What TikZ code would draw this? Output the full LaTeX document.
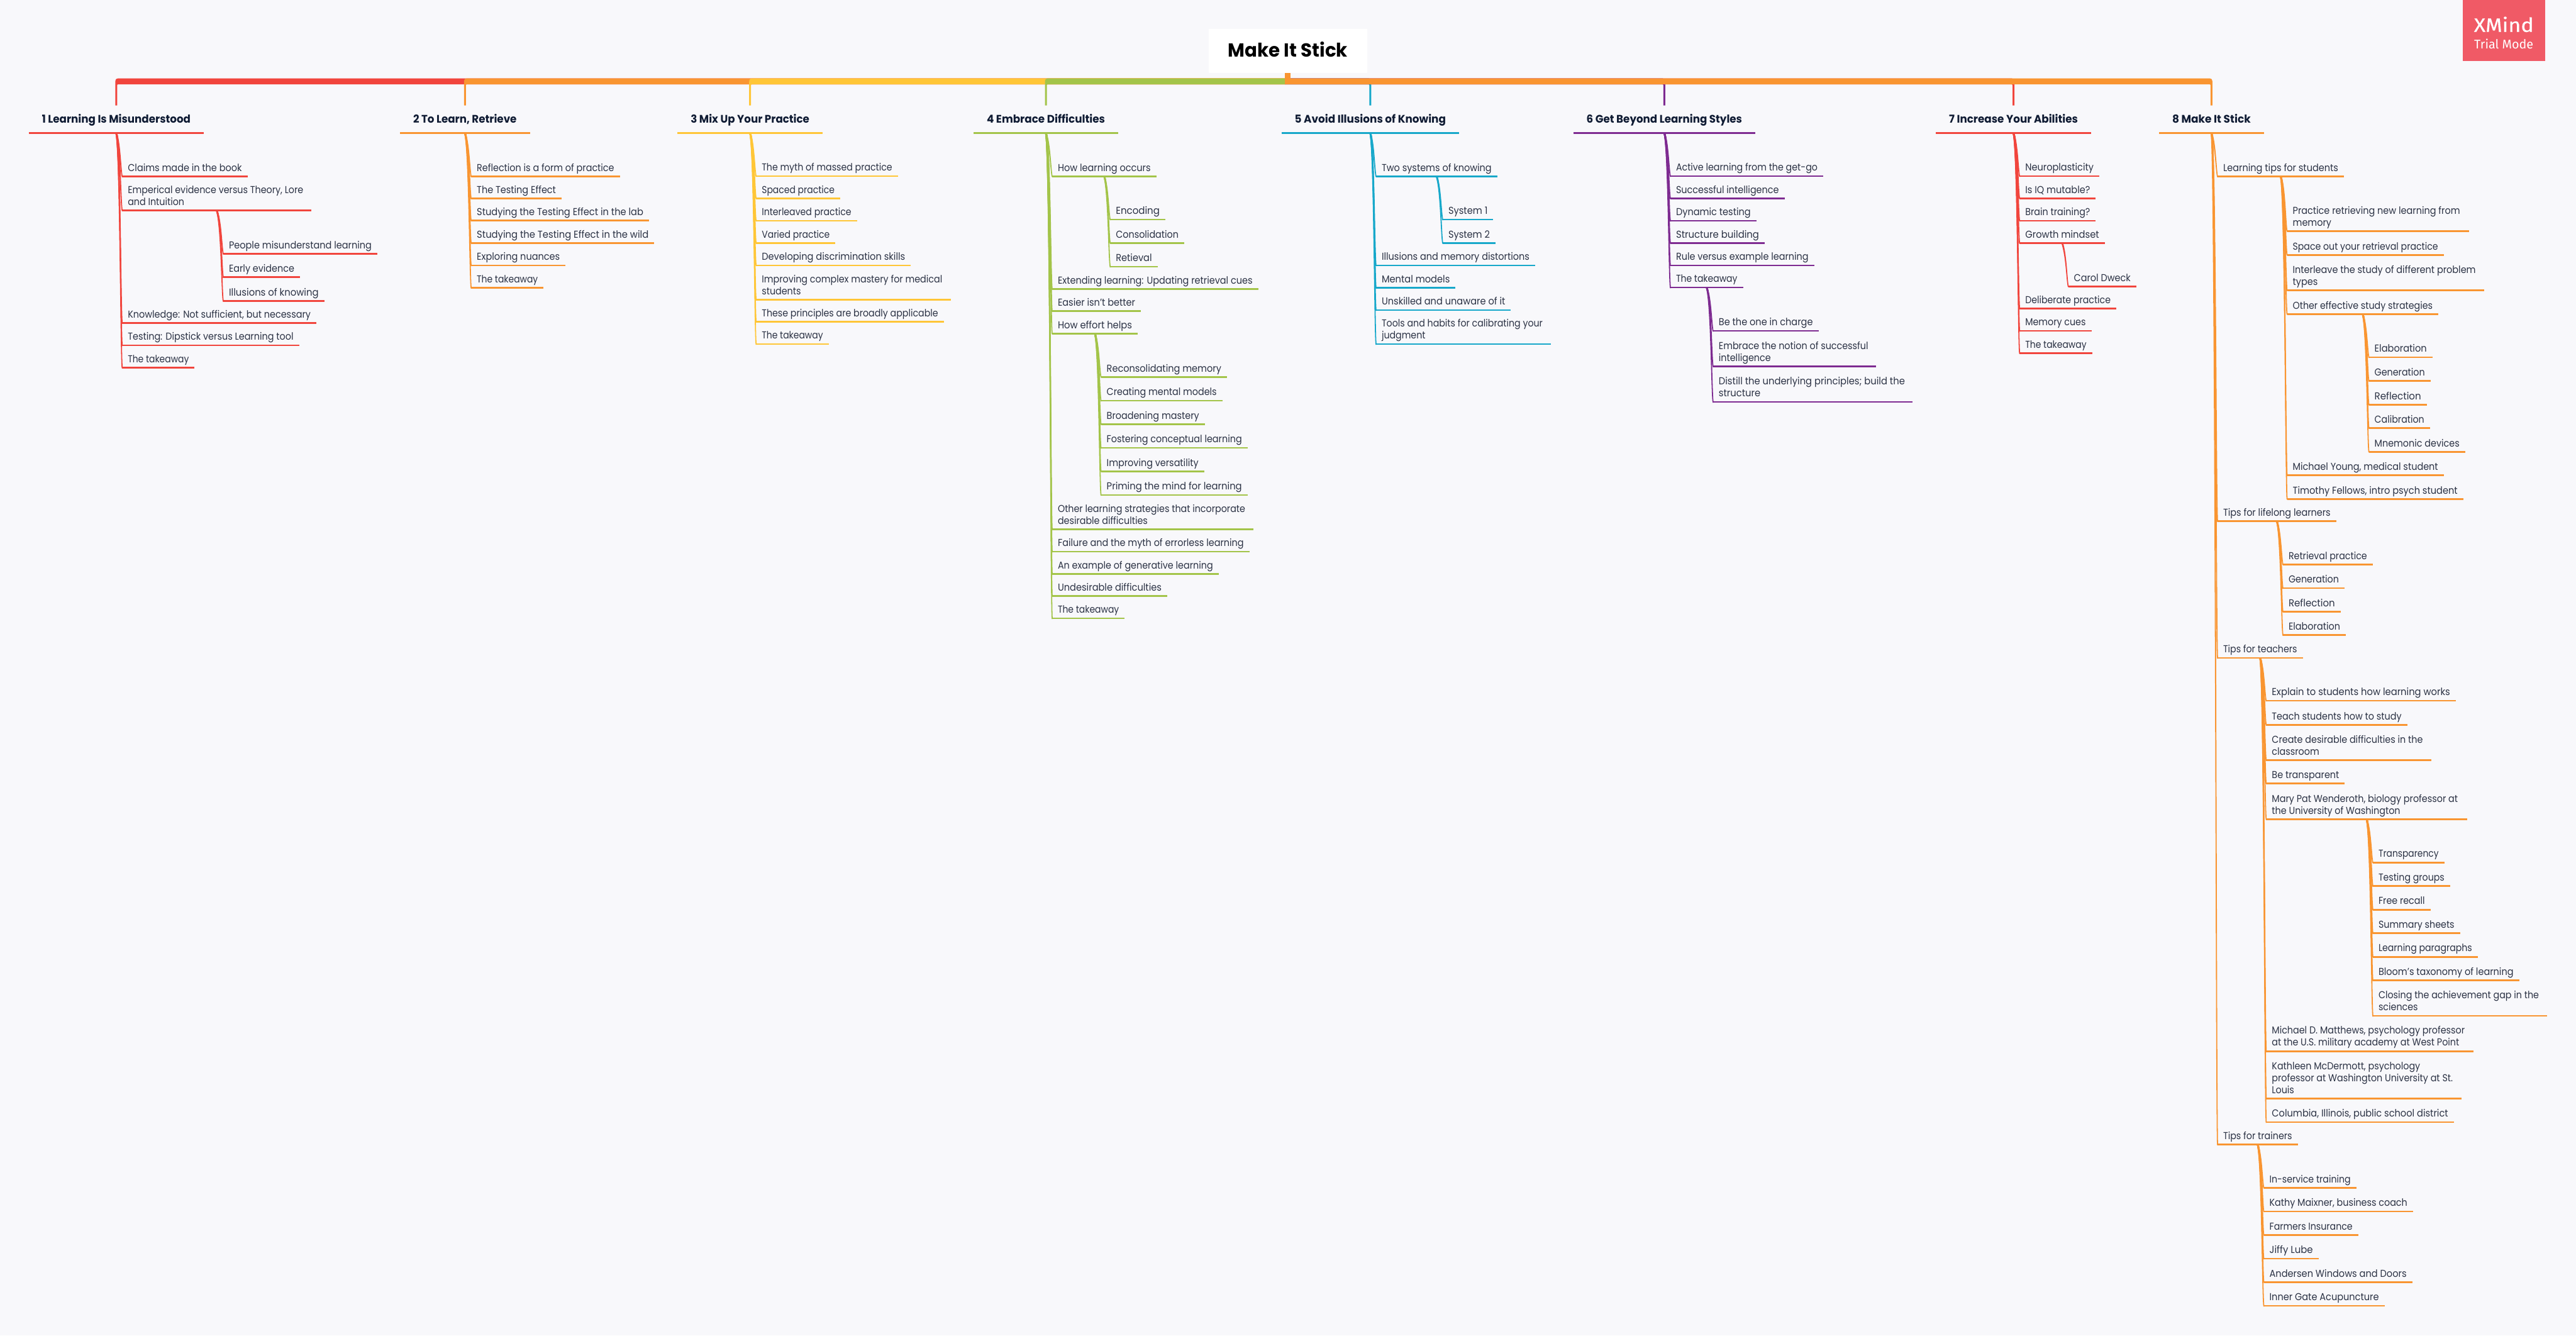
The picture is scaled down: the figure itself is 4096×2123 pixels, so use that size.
\documentclass[tikz,border=0pt]{standalone}
\usepackage{fontspec}
\usepackage{graphicx}
\usetikzlibrary{calc}
\setmainfont{Poppins}
\newfontfamily\xmfont[FakeBold=0.4]{Fira Sans}
\newfontfamily\xmsub{Fira Sans}
\definecolor{bgc}{HTML}{F8F8FB}
\definecolor{cRed}{HTML}{F1453D}
\definecolor{cOrange}{HTML}{F99531}
\definecolor{cYellow}{HTML}{FFC637}
\definecolor{cGreen}{HTML}{A3C449}
\definecolor{cBlue}{HTML}{17A8CA}
\definecolor{cPurple}{HTML}{7E2B91}
\definecolor{cText}{HTML}{2B3244}
\definecolor{cTitle}{HTML}{0F1B33}
\definecolor{cXm}{HTML}{F05A66}
\colorlet{cc}{cRed}
\newsavebox\fitbox
\newcommand\fitto[2]{\sbox\fitbox{\begin{tabular}[b]{@{}l@{}}#2\end{tabular}}\pgfmathsetmacro\fitS{#1/\wd\fitbox}\scalebox{\fitS}[1]{\usebox\fitbox}}
\tikzset{
  leafnode/.style={anchor=south west,inner xsep=9pt,inner ysep=0pt,outer sep=0pt,text=cText,font=\fontsize{16}{19}\selectfont},
  topicnode/.style={anchor=south west,inner xsep=21pt,inner ysep=0pt,outer sep=0pt,text=cTitle,font=\fontsize{17.5}{21}\selectfont\bfseries},
  leafline/.style={draw=cc,line width=2.6pt},
  topicline/.style={draw=cc,line width=3.4pt},
  rootnode/.style={fill=white,minimum width=252.4pt,minimum height=70pt,inner sep=0pt,outer sep=0pt,text=black,font=\fontsize{30}{36}\selectfont\bfseries},
  markbox/.style={fill=cXm,minimum width=131pt,minimum height=96.7pt,inner sep=0pt,outer sep=0pt},
  marktext/.style={text=white,inner sep=0pt,outer sep=0pt}
}
\newcommand\conn[2]{%
  \fill[cc] ($(#1.south)+(-1.5,0)$)
    .. controls ($(#1.south -| #2.south west)+(-4,20)$) and ($(#2.south west)+(-3.4,-10)$) .. ($(#2.south west)+(-0.8,1)$)
    -- ($(#2.south west)+(1,1)$)
    .. controls ($(#2.south west)+(-1.6,-8)$) and ($(#1.south -| #2.south west)+(-2,20)$) .. ($(#1.south)+(1.5,0)$) -- cycle;}
\newcommand\nd[6]{\pgfmathsetmacro\nw{#4-#3-18}%
  \node[leafnode] (#1) at (#3,#5) {\makebox[\nw pt][l]{\fitto{\nw}{#6}\rule[-8.3pt]{0pt}{8.3pt}}};
  \draw[leafline] (#1.south west) -- (#1.south east);
  \conn{#2}{#1}}
\newcommand\ndm[7]{\pgfmathsetmacro\nw{#4-#3-18}%
  \node[leafnode] (#1) at (#3,#5) {\makebox[\nw pt][l]{\fitto{#6}{#7}\rule[-8.3pt]{0pt}{8.3pt}}};
  \draw[leafline] (#1.south west) -- (#1.south east);
  \conn{#2}{#1}}
\newcommand\topic[6]{\colorlet{cc}{#2}\pgfmathsetmacro\nw{#4-#3-42}%
  \node[topicnode] (#1) at (#3,211.3) {\makebox[\nw pt][l]{\fitto{\nw}{#6}\rule[-16.3pt]{0pt}{43.7pt}}};
  \draw[topicline] (#1.south west) -- (#1.south east);
  \fill[cc] ($(hub)+(0,-4.75)$) -- ($(#1.north |- hub)+(#5*8,-4.75)$)
    .. controls ($(#1.north |- hub)+(-#5*1.5,-4.75)$) .. ($(#1.north |- hub)+(-#5*1.5,5)$)
    -- ($(#1.north)+(-#5*1.5,0)$) -- ($(#1.north)+(#5*1.5,0)$)
    -- ($(#1.north |- hub)+(#5*1.5,8)$)
    .. controls ($(#1.north |- hub)+(#5*1.5,4.75)$) .. ($(#1.north |- hub)+(#5*5,4.75)$)
    -- ($(hub)+(0,4.75)$) -- cycle;}
\begin{document}
\begin{tikzpicture}[x=1pt,y=-1pt]
\useasboundingbox (0,0) rectangle (4096,2123);
\fill[bgc] (0,0) rectangle (4096,2123);
\coordinate (hub) at (2043,129.3);
\node[rootnode] (root) at (2047.8,80.5) {\raisebox{-10.3pt}[0pt][0pt]{\fitto{190}{Make It Stick}}};
\node[markbox] (mark) at (3981.2,48.35) {};
\node[marktext,font=\fontsize{31}{37}\selectfont\xmfont] (markA) at (3981.2,50.7) {\raisebox{0pt}[0pt][0pt]{\fitto{95}{XMind}}};
\node[marktext,font=\fontsize{20}{24}\selectfont\xmsub] (markB) at (3981.2,77.3) {\raisebox{0pt}[0pt][0pt]{\fitto{94}{Trial Mode}}};

% ---------- 1
\topic{ta}{cRed}{45.6}{324}{1}{1 Learning Is Misunderstood}
\nd{a1}{ta}{194.3}{393.5}{280.3}{Claims made in the book}
\ndm{a2}{ta}{194.3}{495}{334.5}{279}{Emperical evidence versus Theory, Lore\\and Intuition}
\nd{a21}{a2}{355}{600}{403.3}{People misunderstand learning}
\nd{a22}{a2}{355}{477}{440.5}{Early evidence}
\nd{a23}{a2}{355}{515.6}{478.5}{Illusions of knowing}
\nd{a3}{ta}{194.3}{503}{513.6}{Knowledge: Not sufficient, but necessary}
\nd{a4}{ta}{194.3}{475.6}{549}{Testing: Dipstick versus Learning tool}
\nd{a5}{ta}{194.3}{309.4}{584.4}{The takeaway}

% ---------- 2
\topic{tb}{cOrange}{636}{842.5}{1}{2 To Learn, Retrieve}
\nd{b1}{tb}{749.2}{985.6}{280.3}{Reflection is a form of practice}
\nd{b2}{tb}{749.2}{893}{315.5}{The Testing Effect}
\nd{b3}{tb}{749.2}{1032}{350.7}{Studying the Testing Effect in the lab}
\nd{b4}{tb}{749.2}{1040.3}{386.3}{Studying the Testing Effect in the wild}
\nd{b5}{tb}{749.2}{899.3}{422}{Exploring nuances}
\nd{b6}{tb}{749.2}{864.3}{457.5}{The takeaway}

% ---------- 3
\topic{tc}{cYellow}{1077.3}{1308}{1}{3 Mix Up Your Practice}
\nd{c1}{tc}{1202.3}{1427.7}{280}{The myth of massed practice}
\nd{c2}{tc}{1202.3}{1336}{315.3}{Spaced practice}
\nd{c3}{tc}{1202.3}{1362.7}{351}{Interleaved practice}
\nd{c4}{tc}{1202.3}{1328.3}{386.3}{Varied practice}
\nd{c5}{tc}{1202.3}{1448.3}{422}{Developing discrimination skills}
\ndm{c6}{tc}{1202.3}{1512}{476.3}{287}{Improving complex mastery for medical\\students}
\nd{c7}{tc}{1202.3}{1500.7}{511.3}{These principles are broadly applicable}
\nd{c8}{tc}{1202.3}{1317.7}{547}{The takeaway}

% ---------- 4
\topic{td}{cGreen}{1548}{1778}{1}{4 Embrace Difficulties}
\nd{d1}{td}{1673}{1838.6}{280.3}{How learning occurs}
\nd{d11}{d1}{1765.3}{1853}{349}{Encoding}
\nd{d12}{d1}{1765.3}{1883}{386.3}{Consolidation}
\nd{d13}{d1}{1765.3}{1840.6}{424}{Retieval}
\nd{d2}{td}{1673}{2000.6}{459.5}{Extending learning: Updating retrieval cues}
\nd{d3}{td}{1673}{1814}{494.7}{Easier isn’t better}
\nd{d4}{td}{1673}{1809}{530.3}{How effort helps}
\nd{d41}{d4}{1750.7}{1951}{599.3}{Reconsolidating memory}
\nd{d42}{d4}{1750.7}{1943.7}{637}{Creating mental models}
\nd{d43}{d4}{1750.7}{1915.7}{674.3}{Broadening mastery}
\nd{d44}{d4}{1750.7}{1983.7}{712}{Fostering conceptual learning}
\nd{d45}{d4}{1750.7}{1914.7}{749.3}{Improving versatility}
\nd{d46}{d4}{1750.7}{1983.7}{787}{Priming the mind for learning}
\ndm{d5}{td}{1673}{1992.7}{841.3}{298}{Other learning strategies that incorporate\\desirable difficulties}
\nd{d6}{td}{1673}{1986.7}{877}{Failure and the myth of errorless learning}
\nd{d7}{td}{1673}{1937.7}{912.3}{An example of generative learning}
\nd{d8}{td}{1673}{1856}{947.7}{Undesirable difficulties}
\nd{d9}{td}{1673}{1788.3}{983}{The takeaway}

% ---------- 5
\topic{te}{cBlue}{2037.6}{2320}{-1}{5 Avoid Illusions of Knowing}
\nd{e1}{te}{2188}{2380.7}{280.3}{Two systems of knowing}
\nd{e11}{e1}{2294}{2374.4}{349}{System 1}
\nd{e12}{e1}{2294}{2378}{386.3}{System 2}
\nd{e2}{te}{2188}{2441}{422}{Illusions and memory distortions}
\nd{e3}{te}{2188}{2314.4}{457.5}{Mental models}
\nd{e4}{te}{2188}{2402.4}{493}{Unskilled and unaware of it}
\ndm{e5}{te}{2188}{2465.6}{547}{256}{Tools and habits for calibrating your\\judgment}

% ---------- 6
\topic{tf}{cPurple}{2501.7}{2791}{-1}{6 Get Beyond Learning Styles}
\nd{f1}{tf}{2656}{2899}{280}{Active learning from the get-go}
\nd{f2}{tf}{2656}{2837.5}{315.4}{Successful intelligence}
\nd{f3}{tf}{2656}{2792.8}{351}{Dynamic testing}
\nd{f4}{tf}{2656}{2806}{386.4}{Structure building}
\nd{f5}{tf}{2656}{2884.6}{421.8}{Rule versus example learning}
\nd{f6}{tf}{2656}{2771.5}{457}{The takeaway}
\nd{f61}{f6}{2723.9}{2891.5}{526}{Be the one in charge}
\ndm{f62}{f6}{2723.9}{2983.4}{582.5}{237.7}{Embrace the notion of successful\\intelligence}
\ndm{f63}{f6}{2723.9}{3041.3}{639}{296}{Distill the underlying principles; build the\\structure}

% ---------- 7
\topic{tg}{cRed}{3078}{3325}{-1}{7 Increase Your Abilities}
\nd{g1}{tg}{3211.3}{3338}{280}{Neuroplasticity}
\nd{g2}{tg}{3211.3}{3332.4}{315.4}{Is IQ mutable?}
\nd{g3}{tg}{3211.3}{3332.4}{351}{Brain training?}
\nd{g4}{tg}{3211.3}{3346.7}{386.4}{Growth mindset}
\nd{g41}{g4}{3288.7}{3396.7}{455.4}{Carol Dweck}
\nd{g5}{tg}{3211.3}{3365}{490.7}{Deliberate practice}
\nd{g6}{tg}{3211.3}{3325.5}{526}{Memory cues}
\nd{g7}{tg}{3211.3}{3326.6}{561.4}{The takeaway}

% ---------- 8
\topic{th}{cOrange}{3433}{3599.7}{-1}{8 Make It Stick}
\nd{h1}{th}{3526}{3727}{280.7}{Learning tips for students}
\ndm{h11}{h1}{3636.6}{3925.5}{367.7}{266}{Practice retrieving new learning from\\memory}
\nd{h12}{h1}{3636.6}{3885.6}{405.3}{Space out your retrieval practice}
\ndm{h13}{h1}{3636.6}{3950}{461.7}{291}{Interleave the study of different problem\\types}
\nd{h14}{h1}{3636.6}{3877}{499.3}{Other effective study strategies}
\nd{h141}{h14}{3766.7}{3867.7}{568}{Elaboration}
\nd{h142}{h14}{3766.7}{3864.7}{605.7}{Generation}
\nd{h143}{h14}{3766.7}{3858.7}{643.3}{Reflection}
\nd{h144}{h14}{3766.7}{3863.7}{680.7}{Calibration}
\nd{h145}{h14}{3766.7}{3919.7}{718.3}{Mnemonic devices}
\nd{h15}{h1}{3636.6}{3885.7}{755.7}{Michael Young, medical student}
\nd{h16}{h1}{3636.6}{3916.7}{793.3}{Timothy Fellows, intro psych student}
\nd{h2}{th}{3526}{3714.7}{828.7}{Tips for lifelong learners}
\nd{h21}{h2}{3630}{3772.7}{897.3}{Retrieval practice}
\nd{h22}{h2}{3630}{3728}{935}{Generation}
\nd{h23}{h2}{3630}{3721.7}{972.3}{Reflection}
\nd{h24}{h2}{3630}{3730}{1009.7}{Elaboration}
\nd{h3}{th}{3526}{3661.5}{1046}{Tips for teachers}
\nd{h31}{h3}{3603.4}{3904.8}{1114}{Explain to students how learning works}
\nd{h32}{h3}{3603.4}{3827.6}{1152.3}{Teach students how to study}
\ndm{h33}{h3}{3603.4}{3866}{1208.6}{240}{Create desirable difficulties in the\\classroom}
\nd{h34}{h3}{3603.4}{3728.4}{1245.7}{Be transparent}
\ndm{h35}{h3}{3603.4}{3922.6}{1302.3}{295.7}{Mary Pat Wenderoth, biology professor at\\the University of Washington}
\nd{h351}{h35}{3773}{3886.5}{1371.2}{Transparency}
\nd{h352}{h35}{3773}{3895.7}{1408.7}{Testing groups}
\nd{h353}{h35}{3773}{3864.5}{1446.2}{Free recall}
\nd{h354}{h35}{3773}{3911.6}{1483.7}{Summary sheets}
\nd{h355}{h35}{3773}{3939.8}{1521.2}{Learning paragraphs}
\nd{h356}{h35}{3773}{4005.5}{1558.7}{Bloom’s taxonomy of learning}
\ndm{h357}{h35}{3773}{4050.4}{1615}{255}{Closing the achievement gap in the\\sciences}
\ndm{h36}{h3}{3603.4}{3932.5}{1671.2}{306.7}{Michael D. Matthews, psychology professor\\at the U.S. military academy at West Point}
\ndm{h37}{h3}{3603.4}{3914.3}{1746.6}{287.7}{Kathleen McDermott, psychology\\professor at Washington University at St.\\Louis}
\nd{h38}{h3}{3603.4}{3901.7}{1784}{Columbia, Illinois, public school district}
\nd{h4}{th}{3526}{3653.6}{1819.6}{Tips for trainers}
\nd{h41}{h4}{3599.6}{3746.7}{1888.5}{In-service training}
\nd{h42}{h4}{3599.6}{3836.8}{1926}{Kathy Maixner, business coach}
\nd{h43}{h4}{3599.6}{3749.7}{1963.6}{Farmers Insurance}
\nd{h44}{h4}{3599.6}{3686.6}{2001}{Jiffy Lube}
\nd{h45}{h4}{3599.6}{3835.6}{2038.3}{Andersen Windows and Doors}
\nd{h46}{h4}{3599.6}{3791.5}{2076}{Inner Gate Acupuncture}

% stub below the root
\fill[cOrange] ($(root.south)+(-4.8,0)$) rectangle ($(root.south)+(4.2,15)$);
\end{tikzpicture}
\end{document}
